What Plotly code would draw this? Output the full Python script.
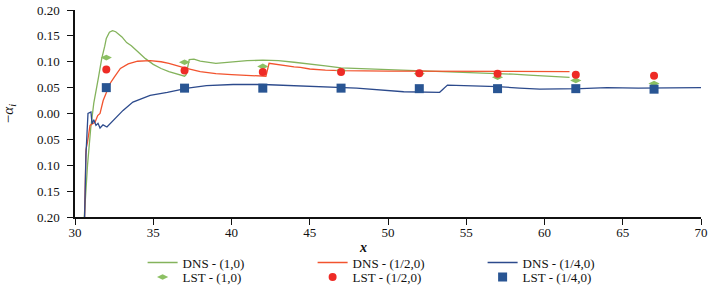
import plotly.graph_objects as go

# ---------------- data ----------------
dns_10_x = [30.55, 30.8, 31.0, 31.2, 31.5, 31.7, 31.9, 32.0, 32.2, 32.4, 32.6, 33.0, 33.3, 33.6, 34.0, 34.5,
            35.0, 35.5, 36.0, 36.5, 37.0, 37.1, 37.3, 37.6, 38.0, 39.0, 40.0, 41.0, 42.0, 43.0, 44.0, 45.0,
            46.0, 47.0, 48.0, 50.0, 52.0, 54.0, 55.0, 56.0, 57.0, 58.0, 59.0, 60.0, 61.6]
dns_10_y = [-0.22, -0.1, -0.03, 0.02, 0.07, 0.105, 0.13, 0.145, 0.157, 0.160, 0.158, 0.148, 0.137, 0.131, 0.120, 0.106,
            0.095, 0.087, 0.081, 0.076, 0.072, 0.075, 0.104, 0.105, 0.101, 0.097, 0.100, 0.102, 0.103, 0.102, 0.099, 0.096,
            0.092, 0.088, 0.087, 0.085, 0.083, 0.081, 0.080, 0.079, 0.078, 0.076, 0.074, 0.073, 0.070]

dns_12_x = [30.6, 30.7, 30.8, 30.96, 31.1, 31.28, 31.45, 31.6, 31.8, 32.0, 32.24, 32.5, 32.9, 33.4, 34.0, 34.8,
            35.5, 36.0, 37.0, 38.0, 39.0, 40.0, 41.0, 42.2, 42.4, 43.0, 44.0, 44.4, 45.0, 46.0, 47.0, 50.0,
            55.0, 60.0, 61.6]
dns_12_y = [-0.22, -0.07, -0.055, -0.023, -0.02, -0.017, -0.004, 0.0, 0.025, 0.04, 0.058, 0.07, 0.087, 0.096, 0.101, 0.102,
            0.100, 0.097, 0.088, 0.081, 0.077, 0.075, 0.073, 0.072, 0.097, 0.094, 0.090, 0.089, 0.086, 0.084, 0.083, 0.082,
            0.082, 0.081, 0.081]

dns_14_x = [30.6, 30.7, 30.83, 31.02, 31.09, 31.2, 31.34, 31.47, 31.6, 31.79, 32.04, 32.43, 33.07, 33.7, 34.8, 35.9,
            37.2, 38.4, 40.1, 42.0, 45.0, 48.0, 51.0, 53.3, 53.8, 55.0, 57.0, 58.4, 59.7, 62.3, 64.0, 66.0,
            68.0, 70.0]
dns_14_y = [-0.22, -0.08, 0.0, 0.003, -0.02, -0.012, -0.023, -0.019, -0.028, -0.022, -0.026, -0.014, 0.006, 0.022, 0.035, 0.041,
            0.049, 0.054, 0.056, 0.056, 0.053, 0.049, 0.042, 0.041, 0.055, 0.054, 0.052, 0.049, 0.047, 0.048, 0.050, 0.049,
            0.049, 0.050]

lst_x = [32, 37, 42, 47, 52, 57, 62, 67]
lst_10 = [0.108, 0.099, 0.091, 0.083, 0.077, 0.070, 0.064, 0.058]
lst_12 = [0.085, 0.083, 0.080, 0.080, 0.078, 0.077, 0.075, 0.073]
lst_14 = [0.050, 0.049, 0.049, 0.049, 0.048, 0.048, 0.048, 0.047]

y_tick_vals = [-0.20, -0.15, -0.10, -0.05, 0.00, 0.05, 0.10, 0.15, 0.20]
y_tick_text = ["0.20", "0.15", "0.10", "0.05", "0.00", "0.05", "0.10", "0.15", "0.20"]
x_tick_vals = [30, 35, 40, 45, 50, 55, 60, 65, 70]

FONT = "Liberation Serif"
C_G_LINE = "#84b35c"
C_G_MARK = "#8cc063"
C_R_LINE = "#f2532e"
C_R_MARK = "#ee2b26"
C_B_LINE = "#2c4a8c"
C_B_MARK = "#295593"

fig = go.Figure()
fig.add_trace(go.Scatter(x=dns_10_x, y=dns_10_y, mode="lines", name="DNS - (1,0)",
                         line=dict(color=C_G_LINE, width=1.3), legend="legend"))
fig.add_trace(go.Scatter(x=dns_12_x, y=dns_12_y, mode="lines", name="DNS - (1/2,0)",
                         line=dict(color=C_R_LINE, width=1.3), legend="legend"))
fig.add_trace(go.Scatter(x=dns_14_x, y=dns_14_y, mode="lines", name="DNS - (1/4,0)",
                         line=dict(color=C_B_LINE, width=1.3), legend="legend"))
fig.add_trace(go.Scatter(x=lst_x, y=lst_10, mode="markers", name="LST - (1,0)",
                         marker=dict(symbol="diamond-wide", size=8, color=C_G_MARK), legend="legend2"))
fig.add_trace(go.Scatter(x=lst_x, y=lst_12, mode="markers", name="LST - (1/2,0)",
                         marker=dict(symbol="circle", size=8, color=C_R_MARK), legend="legend2"))
fig.add_trace(go.Scatter(x=lst_x, y=lst_14, mode="markers", name="LST - (1/4,0)",
                         marker=dict(symbol="square", size=9, color=C_B_MARK), legend="legend2"))

leg_common = dict(orientation="h", xanchor="left", yanchor="middle", entrywidth=125, entrywidthmode="pixels",
                  font=dict(family=FONT, size=13, color="#111"), bgcolor="rgba(0,0,0,0)", borderwidth=0,
                  itemwidth=30, tracegroupgap=0)

fig.update_layout(
    width=714, height=288,
    margin=dict(l=75, r=13, t=10, b=71, autoexpand=False),
    paper_bgcolor="white", plot_bgcolor="white",
    font=dict(family=FONT, size=13, color="#111"),
    xaxis=dict(range=[30, 70], tickvals=x_tick_vals, showgrid=False, zeroline=False, automargin=False,
               showline=True, linecolor="#111", linewidth=1.5, ticks="outside", ticklen=6,
               tickcolor="#111", tickfont=dict(family=FONT, size=13), ticklabelstandoff=-3),
    yaxis=dict(range=[-0.2, 0.2], tickvals=y_tick_vals, ticktext=y_tick_text, showgrid=False, automargin=False,
               zeroline=False, showline=True, linecolor="#111", linewidth=1.5, ticks="outside",
               ticklen=6, tickcolor="#111", tickfont=dict(family=FONT, size=13), ticklabelstandoff=5,
               title=dict(text="−<i>α</i><sub><i>i</i></sub>", font=dict(family=FONT, size=15), standoff=23)),
    legend=dict(x=0.108, y=-0.22, **leg_common),
    legend2=dict(x=0.108, y=-0.29, **leg_common),
    annotations=[dict(text="<b><i>x</i></b>", x=0.46, y=-0.193, xref="paper", yref="paper",
                      showarrow=False, font=dict(family=FONT, size=14))],
)

fig.write_html("out.html", config={"displayModeBar": False},
               post_script="document.body.style.margin='0px';")
